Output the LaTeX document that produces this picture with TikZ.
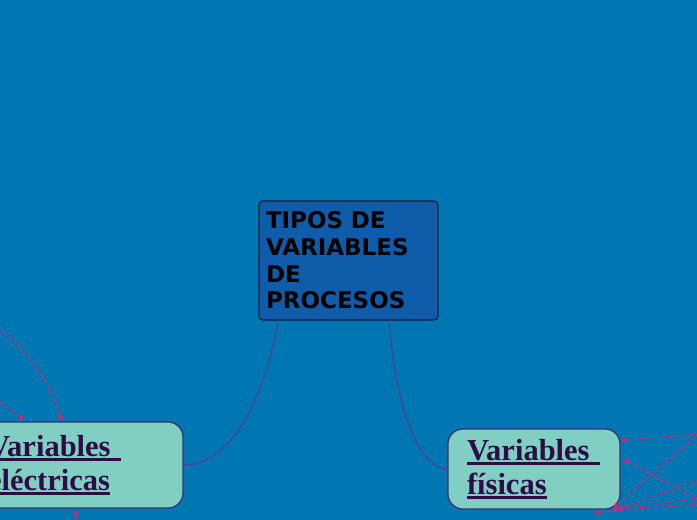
\documentclass[tikz,border=0pt]{standalone}
\usepackage{fontspec}
\setmainfont{Liberation Serif}
\newfontfamily\dvsans{DejaVu Sans}
\usetikzlibrary{calc,arrows.meta}
\definecolor{bgblue}{HTML}{0077B3}
\definecolor{mainfill}{HTML}{0F5CAB}
\definecolor{mainborder}{HTML}{0A1A3A}
\definecolor{teal}{HTML}{80CFC2}
\definecolor{tealborder}{HTML}{3A2E6A}
\definecolor{darkpurple}{HTML}{2E0C45}
\definecolor{linkpurple}{HTML}{5A3C8C}
\definecolor{pinkdash}{HTML}{E81C6C}
\newsavebox\ulbox
\newcommand\myul[1]{\sbox\ulbox{#1}\usebox\ulbox\llap{\rule[-4.5pt]{\wd\ulbox}{2.4pt}}}
\tikzset{
  mainbox/.style={draw=mainborder, line width=1.2pt, fill=mainfill, rounded corners=4pt,
    minimum width=179pt, minimum height=119pt, text width=165pt, inner xsep=7pt,
    align=left, font=\dvsans\bfseries\fontsize{23}{26.7}\selectfont, text=black},
  subbox/.style={draw=tealborder, line width=1.2pt, fill=teal, rounded corners=15pt,
    inner xsep=19pt, align=left, text=darkpurple,
    font=\bfseries\fontsize{30.5}{34}\selectfont},
  link/.style={draw=linkpurple, line width=1.1pt},
  dashlink/.style={draw=pinkdash, line width=1.1pt, dash pattern=on 4pt off 3pt},
  dotend/.style={dashlink, {Circle[length=5pt,width=5pt,fill=pinkdash]}-},
  arrend/.style={dashlink, -{Latex[length=6pt,width=5pt]}},
}
\begin{document}
\begin{tikzpicture}[x=1pt,y=-1pt]
\fill[bgblue] (0,0) rectangle (697,520);
\useasboundingbox (0,0) rectangle (697,520);

\node[mainbox] (cn) at (348.5,260.5) {TIPOS DE\\VARIABLES\\DE\\PROCESOS};
\node[subbox, minimum width=214pt, minimum height=86pt, text width=176pt] (ln) at (76,465)
  {\myul{Variables\ }\\\myul{eléctricas}};
\node[subbox, minimum width=172pt, minimum height=80pt, text width=134pt] (rn) at (534,469)
  {\myul{Variables\ }\\\myul{físicas}};

% main connectors
\draw[link] ($(cn.south west)+(20,0)$) .. controls ($(cn.south west)+(6,80)$) and ($(ln.east)+(47,0)$) .. (ln.east);
\draw[link] ($(cn.south west)+(131,0)$) .. controls ($(cn.south west)+(136,80)$) and ($(rn.west)+(-30,0)$) .. (rn.west);

% free ends
\coordinate (la) at (-2,328);
\coordinate (lb) at (-2,401);
\coordinate (lc) at (75,524);
\coordinate (ra) at (700,434);
\coordinate (rb) at (700,433);
\coordinate (rc) at (700,500);
\coordinate (rd) at (700,480);
\coordinate (re) at (700,498);
\coordinate (rf) at (700,504);

% left node dashed links
\draw[dotend] ($(ln.north west)+(93,-2)$) .. controls (55,395) and (35,355) .. (la);
\draw[dotend] ($(ln.north west)+(55,-2)$) -- (lb);
\draw[dotend] ($(ln.south west)+(108,3)$) -- (lc);

% right node dashed links
\draw[arrend] (ra) -- ($(rn.north east)+(0,12)$);
\draw[arrend] (rb) -- ($(rn.south east)+(-8,-1)$);
\draw[arrend] (rc) -- ($(rn.north east)+(2,31)$);
\draw[arrend] (rd) -- ($(rn.south east)+(-4,0)$);
\draw[arrend] (re) -- ($(rn.south east)+(-10,1)$);
\draw[arrend] (rf) -- ($(rn.south east)+(-27,3)$);
\end{tikzpicture}
\end{document}
